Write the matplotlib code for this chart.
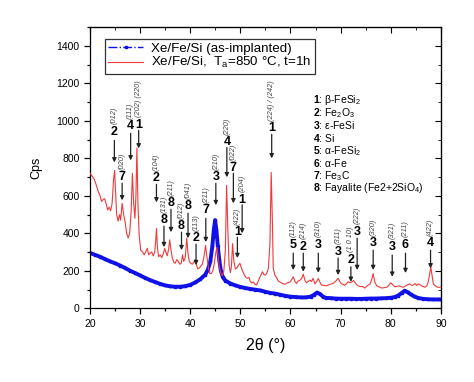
import matplotlib
matplotlib.use('Agg')
import matplotlib.pyplot as plt
from matplotlib.lines import Line2D
from matplotlib.ticker import MultipleLocator

plt.rcParams['font.family'] = ['Liberation Sans', 'DejaVu Sans']
plt.rcParams['mathtext.fontset'] = 'custom'
plt.rcParams['mathtext.rm'] = 'Liberation Sans'
plt.rcParams['mathtext.it'] = 'Liberation Sans:italic'
plt.rcParams['mathtext.bf'] = 'Liberation Sans:bold'

# 退火后样品 (红线)
red_x = [20.0, 20.4, 20.8, 21.2, 21.6, 22.0, 22.3, 22.6, 22.9, 23.2, 23.5, 23.8, 24.1, 24.4, 24.7, 24.9,
         25.1, 25.3, 25.6, 25.9, 26.1, 26.4, 26.7, 27.0, 27.3, 27.6, 27.9, 28.2, 28.45, 28.7, 28.95,
         29.15, 29.35, 29.55, 29.8, 30.1, 30.5, 30.8, 31.1, 31.4, 31.7, 32.0, 32.3, 32.6, 32.9, 33.1,
         33.25, 33.45, 33.7, 34.0, 34.3, 34.6, 34.9, 35.1, 35.4, 35.7, 35.9, 36.1, 36.4, 36.7, 37.0,
         37.3, 37.6, 37.9, 38.2, 38.45, 38.7, 39.0, 39.3, 39.55, 39.8, 40.1, 40.4, 40.7, 40.95, 41.2,
         41.5, 41.8, 42.1, 42.4, 42.7, 43.05, 43.3, 43.6, 43.9, 44.2, 44.5, 44.8, 45.05, 45.3, 45.5,
         45.8, 46.1, 46.4, 46.7, 47.0, 47.25, 47.5, 47.75, 48.0, 48.2, 48.45, 48.7, 49.0, 49.3, 49.6,
         49.9, 50.2, 50.5, 50.8, 51.1, 51.4, 51.7, 52.0, 52.3, 52.6, 52.9, 53.2, 53.5, 53.8, 54.1,
         54.4, 54.7, 55.0, 55.3, 55.6, 55.9, 56.15, 56.4, 56.55, 56.9, 57.2, 57.6, 57.9, 58.4, 58.9,
         59.4, 59.9, 60.3, 60.55, 60.9, 61.2, 61.5, 61.8, 62.2, 62.55, 62.9, 63.2, 63.6, 63.9, 64.2,
         64.5, 64.9, 65.2, 65.55, 65.9, 66.2, 66.7, 67.2, 67.7, 68.2, 68.7, 69.2, 69.5, 69.85, 70.2,
         70.5, 70.8, 71.2, 71.5, 71.9, 72.3, 72.6, 72.9, 73.2, 73.5, 73.85, 74.4, 74.8, 75.1, 75.5,
         75.9, 76.2, 76.5, 76.8, 77.2, 77.7, 78.2, 78.7, 79.2, 79.6, 80.0, 80.4, 80.8, 81.2, 81.7,
         82.1, 82.5, 82.9, 83.4, 83.8, 84.2, 84.5, 84.9, 85.2, 85.5, 85.8, 86.3, 86.8, 87.2, 87.5,
         87.8, 88.0, 88.25, 88.5, 88.8, 89.1, 89.5, 89.8, 90.0]
red_y = [720, 705, 690, 660, 625, 600, 570, 580, 585, 560, 525, 540, 520, 560, 690, 735,
         620, 500, 465, 500, 470, 560, 500, 460, 400, 375, 400, 520, 720, 560, 480,
         600, 855, 560, 390, 310, 300, 285, 300, 320, 285, 295, 300, 280, 300, 360,
         425, 320, 275, 285, 270, 290, 320, 300, 280, 320, 365, 320, 270, 245, 240,
         260, 250, 235, 240, 285, 250, 270, 375, 290, 250, 240, 235, 245, 260, 235,
         210, 215, 225, 235, 270, 335, 280, 220, 185, 185, 200, 240, 290, 325, 290,
         220, 185, 175, 200, 310, 655, 420, 230, 190, 220, 345, 250, 210, 215, 230,
         240, 215, 195, 177, 165, 160, 165, 142, 135, 140, 128, 124, 140, 160, 178,
         195, 180, 177, 190, 215, 350, 725, 450, 215, 175, 165, 145, 140, 132, 128,
         136, 140, 155, 168, 142, 132, 145, 148, 158, 182, 148, 136, 145, 150, 142,
         160, 130, 142, 158, 138, 124, 122, 120, 126, 130, 136, 150, 160, 142, 130,
         128, 122, 132, 142, 136, 142, 148, 136, 126, 120, 116, 116, 108, 114, 124,
         130, 152, 185, 142, 120, 114, 108, 110, 112, 122, 136, 126, 115, 116, 120,
         115, 112, 118, 126, 130, 122, 124, 132, 122, 130, 126, 118, 112, 120, 142,
         188, 220, 176, 130, 122, 115, 112, 112, 114]

# 注入态样品 (蓝线)
blue_x = [20, 21, 22, 23, 24, 25, 26, 27, 28, 29, 30, 31, 32, 33, 34, 35, 36, 37, 38, 39, 40,
          41, 42, 43, 43.5, 44, 44.4, 44.7, 44.95, 45.2, 45.5, 45.8, 46.1, 46.5, 47, 48, 49, 50,
          51, 52, 53, 54, 55, 56, 57, 58, 59, 60, 61, 62, 63, 64, 64.7, 65.3, 65.9, 66.5, 67, 68,
          69, 70, 71, 72, 73, 74, 75, 76, 77, 78, 79, 80, 80.8, 81.5, 82.2, 82.8, 83.4, 84, 84.7,
          85.5, 86.5, 87.5, 88.5, 89.5, 90]
blue_y = [295, 285, 275, 262, 250, 240, 228, 215, 200, 188, 175, 162, 150, 140, 130, 122, 117,
          115, 115, 118, 125, 138, 155, 180, 205, 250, 330, 420, 470, 420, 330, 255, 200, 165,
          148, 132, 122, 114, 108, 103, 99, 95, 88, 82, 78, 72, 66, 62, 60, 58, 58, 62, 72, 84,
          76, 62, 56, 54, 52, 51, 51, 51, 50, 50, 51, 52, 52, 53, 54, 56, 60, 68, 82, 94, 85, 74,
          63, 55, 50, 48, 47, 47, 47]

# 峰标注: 位置, 物相编号, 晶面
ann_x = [24.85, 26.4, 28.1, 29.7, 33.25, 34.75, 36.15, 38.25, 39.55, 41.15, 43.1, 45.1, 47.3,
         48.6, 50.35, 49.4, 56.25, 60.55, 62.55, 65.55, 69.5, 72.05, 73.3, 76.5, 80.3, 82.95, 87.95]
ann_num = ['2', '7', '4', '1', '2', '8', '8', '8', '8', '2', '7', '3', '4',
           '7', '1', '1', '1', '5', '2', '3', '3', '2', '3', '3', '3', '6', '4']
ann_hkl = ['(012)', '(020)', '(111)', '(202) (220)', '(104)', '(131)', '(211)', '(012)', '(041)',
           '(113)', '(211)', '(210)', '(220)', '(022)', '(204)', '(422)', '(224) / (242)', '(112)',
           '(214)', '(310)', '(311)', '(1 0 10)', '(222)', '(320)', '(321)', '(211)', '(422)']
ann_label_y = [943, 698, 970, 980, 693, 470, 560, 438, 544, 374, 523, 698, 885,
               746, 580, 405, 960, 337, 328, 337, 301, 257, 407, 346, 328, 337, 346]
ann_top = [895, 667, 933, 949, 661, 438, 528, 406, 507, 342, 480, 667, 858,
           720, 552, 378, 928, 294, 294, 294, 268, 221, 374, 310, 284, 294, 310]
ann_tip = [778, 576, 789, 853, 565, 326, 406, 310, 374, 230, 353, 550, 699,
           560, 400, 268, 800, 204, 195, 189, 177, 141, 204, 204, 168, 188, 213]

phase_list = [r'$\mathbf{1}$: β-FeSi$_2$', r'$\mathbf{2}$: Fe$_2$O$_3$', r'$\mathbf{3}$: ε-FeSi',
              r'$\mathbf{4}$: Si', r'$\mathbf{5}$: α-FeSi$_2$', r'$\mathbf{6}$: α-Fe',
              r'$\mathbf{7}$: Fe$_3$C', r'$\mathbf{8}$: Fayalite (Fe2+2SiO$_4$)']

fig = plt.figure(figsize=(4.74, 3.82), dpi=100)
ax = fig.add_axes([0.19, 0.193, 0.740, 0.736])

ax.plot(blue_x, blue_y, color='#1010e8', lw=2.8, marker='s', ms=1.6, zorder=2)
ax.plot(red_x, red_y, color='#f03a3a', lw=0.8, zorder=3)

for x, n, h, ly, t, tip in zip(ann_x, ann_num, ann_hkl, ann_label_y, ann_top, ann_tip):
    ax.text(x, ly, n, ha='center', va='center', fontsize=9, fontweight='bold', zorder=5)
    ax.annotate(h, xy=(x, ly), xytext=(0, 5.5), textcoords='offset points', rotation=90,
                ha='center', va='bottom', fontsize=5.3, style='italic', color='#444444')
    ax.annotate('', xy=(x, tip), xytext=(x, t),
                arrowprops=dict(arrowstyle='-|>', color='#222222', lw=0.9, mutation_scale=6,
                                shrinkA=0, shrinkB=0))

for i, s in enumerate(phase_list):
    ax.text(0.635, 0.74 - i * 0.0448, s, transform=ax.transAxes, fontsize=7.5, va='center')

ax.set_xlim(20, 90)
ax.set_ylim(0, 1500)
ax.set_yticks(range(0, 1401, 200))
ax.xaxis.set_major_locator(MultipleLocator(10))
ax.xaxis.set_minor_locator(MultipleLocator(5))
ax.yaxis.set_minor_locator(MultipleLocator(100))
ax.tick_params(which='major', direction='out', length=4, width=0.9, labelsize=7.5)
ax.tick_params(which='minor', direction='out', length=2, width=0.9)
for sp in ax.spines.values():
    sp.set_linewidth(0.9)

# 上/右边框刻度朝内
top = ax.secondary_xaxis('top')
top.xaxis.set_major_locator(MultipleLocator(10))
top.xaxis.set_minor_locator(MultipleLocator(5))
top.tick_params(which='both', direction='in', labeltop=False)
top.tick_params(which='major', length=4)
top.tick_params(which='minor', length=2)
right = ax.secondary_yaxis('right')
right.yaxis.set_major_locator(MultipleLocator(200))
right.yaxis.set_minor_locator(MultipleLocator(100))
right.tick_params(which='both', direction='in', labelright=False)
right.tick_params(which='major', length=4)
right.tick_params(which='minor', length=2)

ax.set_xlabel('2θ (°)', fontsize=11.5, labelpad=7)
ax.set_ylabel('Cps', fontsize=9, labelpad=10)

handles = [Line2D([], [], color='#1010e8', ls='-.', lw=1, marker='s', ms=2),
           Line2D([], [], color='#f03a3a', lw=0.8)]
labels = ['Xe/Fe/Si (as-implanted)', r'Xe/Fe/Si,  T$_\mathrm{a}$=850 °C, t=1h']
leg = ax.legend(handles, labels, loc='upper left', bbox_to_anchor=(0.043, 0.958), fontsize=9.6,
                frameon=True, fancybox=False, edgecolor='black', borderpad=0.25,
                labelspacing=0.05, handlelength=2.6, handletextpad=0.6, borderaxespad=0)
leg.get_frame().set_linewidth(0.9)

fig.savefig('out.png', dpi=100)
